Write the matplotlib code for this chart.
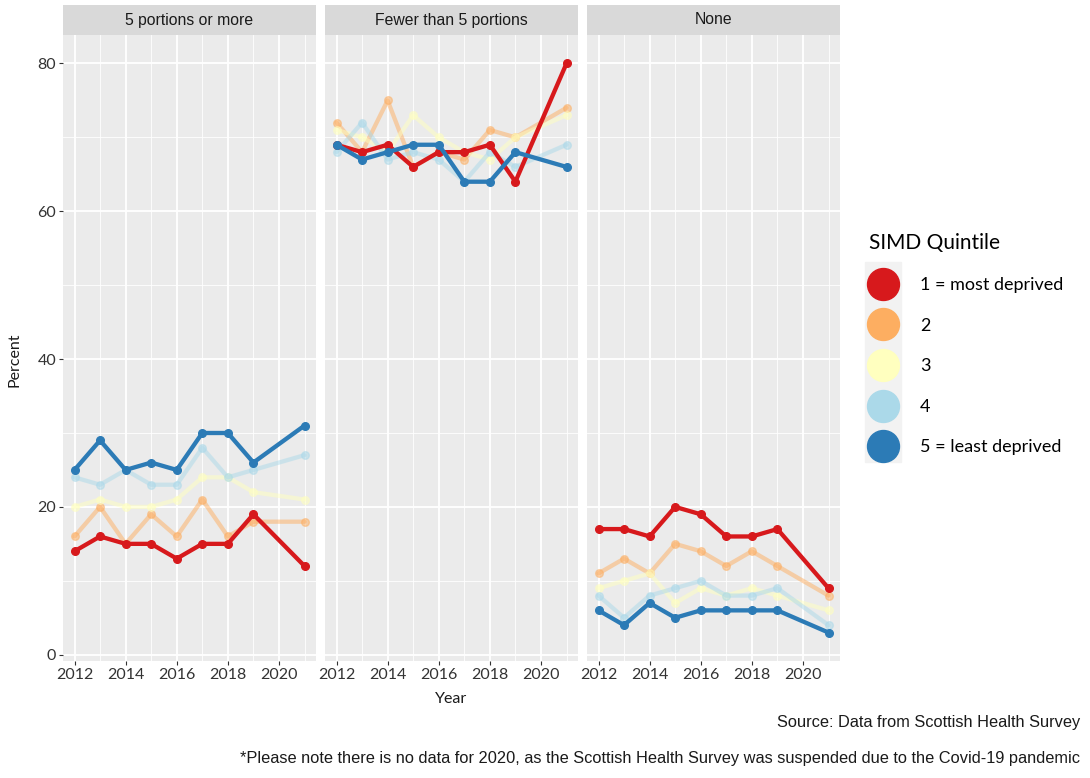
import numpy as np
import matplotlib
matplotlib.use("Agg")
import matplotlib.pyplot as plt
from matplotlib.lines import Line2D
from matplotlib.patches import Rectangle
from matplotlib.ticker import MultipleLocator

# ---------------------------------------------------------------------------
# Data - no survey in 2020
# ---------------------------------------------------------------------------
YEARS = [2012, 2013, 2014, 2015, 2016, 2017, 2018, 2019, 2021]

PANELS = ["5 portions or more", "Fewer than 5 portions", "None"]
QUINTILES = ["1 = most deprived", "2", "3", "4", "5 = least deprived"]

five_or_more = {
    "1 = most deprived": [14, 16, 15, 15, 13, 15, 15, 19, 12],
    "2": [16, 20, 15, 19, 16, 21, 16, 18, 18],
    "3": [20, 21, 20, 20, 21, 24, 24, 22, 21],
    "4": [24, 23, 25, 23, 23, 28, 24, 25, 27],
    "5 = least deprived": [25, 29, 25, 26, 25, 30, 30, 26, 31],
}
fewer_than_five = {
    "1 = most deprived": [69, 68, 69, 66, 68, 68, 69, 64, 80],
    "2": [72, 68, 75, 66, 68, 67, 71, 70, 74],
    "3": [71, 70, 68, 73, 70, 68, 67, 70, 73],
    "4": [68, 72, 67, 68, 67, 64, 68, 66, 69],
    "5 = least deprived": [69, 67, 68, 69, 69, 64, 64, 68, 66],
}
none_portions = {
    "1 = most deprived": [17, 17, 16, 20, 19, 16, 16, 17, 9],
    "2": [11, 13, 11, 15, 14, 12, 14, 12, 8],
    "3": [9, 10, 11, 7, 9, 8, 9, 8, 6],
    "4": [8, 5, 8, 9, 10, 8, 8, 9, 4],
    "5 = least deprived": [6, 4, 7, 5, 6, 6, 6, 6, 3],
}
PANEL_DATA = [five_or_more, fewer_than_five, none_portions]

COLORS = {
    "1 = most deprived": "#D7191C",
    "2": "#FDAE61",
    "3": "#FFFFBF",
    "4": "#ABD9E9",
    "5 = least deprived": "#2C7BB6",
}
ALPHAS = {"1 = most deprived": 1.0, "2": 0.5, "3": 0.5, "4": 0.5,
          "5 = least deprived": 1.0}
DRAW_ORDER = ["2", "3", "4", "1 = most deprived", "5 = least deprived"]

TICK_FONT = ["Lato", "DejaVu Sans"]
CAPTION_FONT = ["Liberation Sans", "DejaVu Sans"]

# ---------------------------------------------------------------------------
# Figure layout (pixel based, 1090 x 778)
# ---------------------------------------------------------------------------
W, H = 1090, 778
fig = plt.figure(figsize=(W / 100, H / 100), dpi=100)
fig.patch.set_facecolor("white")

panel_left = [63, 325, 587]
panel_w = 253
panel_top, panel_bottom = 35, 661
strip_top = 5

for i, (name, data) in enumerate(zip(PANELS, PANEL_DATA)):
    x0 = panel_left[i]
    ax = fig.add_axes([x0 / W, 1 - panel_bottom / H, panel_w / W,
                       (panel_bottom - panel_top) / H])
    ax.set_facecolor("#EBEBEB")
    for s in ax.spines.values():
        s.set_visible(False)

    for q in DRAW_ORDER:
        ax.plot(YEARS, data[q], color=COLORS[q], alpha=ALPHAS[q], lw=3.1,
                marker="o", ms=5.5, solid_capstyle="round", zorder=3)

    ax.set_xlim(2011.55, 2021.45)
    ax.set_ylim(-0.85, 83.85)
    ax.xaxis.set_minor_locator(MultipleLocator(1))
    ax.yaxis.set_major_locator(MultipleLocator(20))
    ax.yaxis.set_minor_locator(MultipleLocator(10))
    ax.set_xticks([2012, 2014, 2016, 2018, 2020])
    ax.grid(which="major", color="white", lw=1.3, zorder=0)
    ax.grid(which="minor", color="white", lw=0.6, zorder=0)
    ax.set_axisbelow(True)
    ax.tick_params(which="minor", length=0)
    ax.tick_params(which="major", length=3, color="#333333", width=0.8,
                   labelsize=11.5, labelcolor="#333333", pad=2)
    for lab in ax.get_xticklabels() + ax.get_yticklabels():
        lab.set_family(TICK_FONT)
    if i > 0:
        ax.tick_params(axis="y", left=False, labelleft=False)

    # facet strip
    sax = fig.add_axes([x0 / W, 1 - panel_top / H, panel_w / W,
                        (panel_top - strip_top) / H])
    sax.set_facecolor("#D9D9D9")
    sax.set_xticks([])
    sax.set_yticks([])
    for s in sax.spines.values():
        s.set_visible(False)
    sax.text(0.5, 0.5, name, ha="center", va="center", fontsize=11.3,
             color="#1A1A1A", family=CAPTION_FONT, transform=sax.transAxes)

# axis titles
fig.text(15 / W, 1 - 360 / H, "Percent", rotation=90, ha="center",
         va="center", fontsize=11.5, color="#1A1A1A", family=TICK_FONT)
fig.text(451 / W, 1 - 699 / H, "Year", ha="center", va="center",
         fontsize=11.5, color="#1A1A1A", family=TICK_FONT)

# legend
handles = [Line2D([], [], color=COLORS[q], marker="o", ls="none", ms=23)
           for q in QUINTILES]
fig.patches.append(Rectangle((865 / W, 1 - 462 / H), 36 / W, 200 / H,
                             transform=fig.transFigure, color="#F2F2F2",
                             zorder=0))
leg = fig.legend(handles, QUINTILES, loc="upper left",
                 bbox_to_anchor=(856 / W, 1 - 220 / H), frameon=False,
                 title="SIMD Quintile", prop={"family": TICK_FONT, "size": 13},
                 labelspacing=1.36, handletextpad=1.25, handlelength=1.6,
                 borderpad=0.2)
leg.get_title().set_family(TICK_FONT)
leg.get_title().set_fontsize(15)
leg._legend_box.align = "left"

# captions
fig.text(1080 / W, 1 - 723 / H, "Source: Data from Scottish Health Survey",
         ha="right", va="center", fontsize=11.8, color="#1A1A1A",
         family=CAPTION_FONT)
fig.text(1080 / W, 1 - 758 / H,
         "*Please note there is no data for 2020, as the Scottish Health "
         "Survey was suspended due to the Covid-19 pandemic",
         ha="right", va="center", fontsize=11.8, color="#1A1A1A",
         family=CAPTION_FONT)

fig.savefig("out.png", dpi=100)
